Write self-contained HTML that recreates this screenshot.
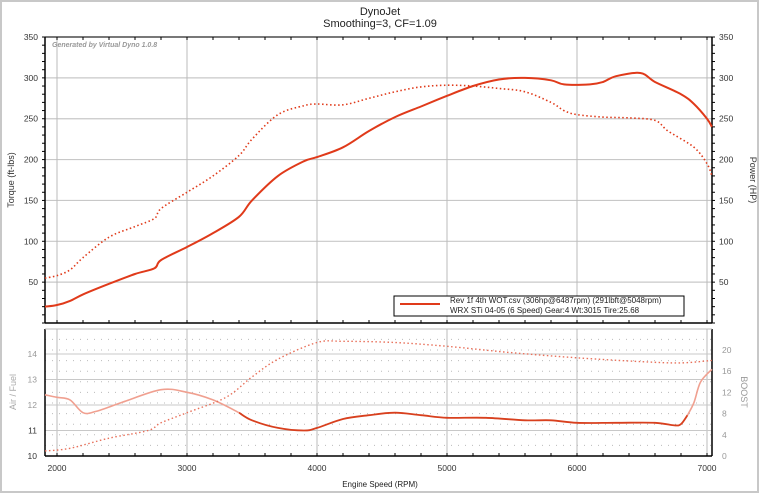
<!DOCTYPE html>
<html><head><meta charset="utf-8"><style>
body{margin:0;background:#fff;}
svg{display:block;font-family:"Liberation Sans",sans-serif;}
</style></head><body>
<svg id="s" width="759" height="493" viewBox="0 0 759 493" xmlns="http://www.w3.org/2000/svg">
<rect x="0" y="0" width="759" height="493" fill="#fff"/>
<rect x="1" y="1" width="757" height="491" fill="none" stroke="#c8c8c8" stroke-width="2"/>
<text x="380" y="15" font-size="11" text-anchor="middle" fill="#222">DynoJet</text>
<text x="380" y="27" font-size="11" text-anchor="middle" fill="#222">Smoothing=3, CF=1.09</text>
<g id="grid"></g>
<text x="52" y="47" font-size="7" font-style="italic" font-weight="bold" fill="#999">Generated by Virtual Dyno 1.0.8</text>
<g id="curves"></g>
<rect x="394" y="296" width="290" height="20" fill="#fff" stroke="#000" stroke-width="1"/>
<line x1="400" y1="304" x2="440" y2="304" stroke="#e03a1a" stroke-width="2"/>
<text x="450" y="303" font-size="8" fill="#222">Rev 1f 4th WOT.csv (306hp@6487rpm) (291lbft@5048rpm)</text>
<text x="450" y="313" font-size="8" fill="#222">WRX STi 04-05 (6 Speed) Gear:4 Wt:3015 Tire:25.68</text>
<text transform="translate(14,180) rotate(-90)" font-size="9" text-anchor="middle" fill="#333">Torque (ft-lbs)</text>
<text transform="translate(750,180) rotate(90)" font-size="9" text-anchor="middle" fill="#333">Power (HP)</text>
<text transform="translate(16,392) rotate(-90)" font-size="9" text-anchor="middle" fill="#aaa">Air / Fuel</text>
<text transform="translate(741,392) rotate(90)" font-size="9" text-anchor="middle" fill="#999">BOOST</text>
<text x="380" y="487" font-size="8" text-anchor="middle" fill="#222">Engine Speed (RPM)</text>
</svg>
<script>
var NS="http://www.w3.org/2000/svg";
function el(p,t,a){var e=document.createElementNS(NS,t);for(var k in a)e.setAttribute(k,a[k]);p.appendChild(e);return e;}
var g=document.getElementById('grid'),c=document.getElementById('curves');
var L=45,R=712,UT=37,UB=323,LT=329,LB=456;
function X(r){return 57+(r-2000)*0.13;}
function YU(v){return 323-v*0.8171;}
function YA(a){return 456-(a-10)*25.5;}
for(var v=50;v<=350;v+=50){var y=YU(v);el(g,'line',{x1:L,y1:y,x2:R,y2:y,stroke:'#c8c8c8','stroke-width':1.2});
 el(g,'text',{x:38,y:y+3,'font-size':8.5,'text-anchor':'end',fill:'#333'}).textContent=v;
 el(g,'text',{x:719,y:y+3,'font-size':8.5,fill:'#333'}).textContent=v;}
for(var r=2000;r<=7000;r+=1000){var x=X(r);el(g,'line',{x1:x,y1:UT,x2:x,y2:UB,stroke:'#bbb','stroke-width':1});el(g,'line',{x1:x,y1:LT,x2:x,y2:LB,stroke:'#bbb','stroke-width':1});
 el(g,'text',{x:x,y:471,'font-size':8.5,'text-anchor':'middle',fill:'#333'}).textContent=r;}
for(var a=11;a<=14;a++){var y=YA(a);el(g,'line',{x1:L,y1:y,x2:R,y2:y,stroke:'#c8c8c8','stroke-width':1});
 el(g,'text',{x:37,y:y+3,'font-size':8.5,'text-anchor':'end',fill:a==11?'#333':'#999'}).textContent=a;}
el(g,'text',{x:37,y:459,'font-size':8.5,'text-anchor':'end',fill:'#333'}).textContent=10;
for(var b=0;b<=20;b+=4){var y=456-b*5.3;el(g,'text',{x:722,y:y+3,'font-size':8.5,fill:'#999'}).textContent=b;}
for(var b=2;b<=22;b+=2){var y=456-b*5.3;el(g,'line',{x1:L,y1:y,x2:R,y2:y,stroke:'#bbb','stroke-width':1,'stroke-dasharray':'1 6'});}
el(g,'line',{x1:L,y1:UT,x2:L,y2:UB,stroke:'#000','stroke-width':1.5});
el(g,'line',{x1:R,y1:UT,x2:R,y2:UB,stroke:'#000','stroke-width':1.5});
el(g,'line',{x1:L,y1:UT,x2:R,y2:UT,stroke:'#000','stroke-width':1});
el(g,'line',{x1:L,y1:UB,x2:R,y2:UB,stroke:'#000','stroke-width':1.5});
el(g,'line',{x1:L,y1:LT,x2:L,y2:LB,stroke:'#000','stroke-width':1.5});
el(g,'line',{x1:R,y1:LT,x2:R,y2:LB,stroke:'#000','stroke-width':1.5});
el(g,'line',{x1:L,y1:LB,x2:R,y2:LB,stroke:'#000','stroke-width':1.5});
el(g,'line',{x1:L,y1:LT,x2:R,y2:LT,stroke:'#bbb','stroke-width':1});
for(var r=2000;r<=7000;r+=200){var x=X(r);el(g,'line',{x1:x,y1:UB-3,x2:x,y2:UB,stroke:'#000'});el(g,'line',{x1:x,y1:LB-3,x2:x,y2:LB,stroke:'#000'});el(g,'line',{x1:x,y1:UT,x2:x,y2:UT+3,stroke:'#000'});}
for(var v=0;v<=350;v+=10){var y=YU(v);el(g,'line',{x1:L-3,y1:y,x2:L,y2:y,stroke:'#000'});el(g,'line',{x1:R,y1:y,x2:R+3,y2:y,stroke:'#000'});}
function path(pts,f){var P=pts.map(function(p){return [X(p[0]),f(p[1])];});var d='M'+P[0][0].toFixed(1)+','+P[0][1].toFixed(1);
 for(var i=0;i<P.length-1;i++){var p0=P[i-1]||P[i],p1=P[i],p2=P[i+1],p3=P[i+2]||p2;
  var c1x=p1[0]+(p2[0]-p0[0])/6,c1y=p1[1]+(p2[1]-p0[1])/6,c2x=p2[0]-(p3[0]-p1[0])/6,c2y=p2[1]-(p3[1]-p1[1])/6;
  d+='C'+c1x.toFixed(1)+','+c1y.toFixed(1)+' '+c2x.toFixed(1)+','+c2y.toFixed(1)+' '+p2[0].toFixed(1)+','+p2[1].toFixed(1);}
 return d;}
var hp=[[1908,20],[2000,22],[2100,27],[2200,35],[2400,48],[2600,60],[2750,67],[2800,77],[3000,93],[3200,110],[3400,130],[3500,150],[3700,180],[3900,198],[4000,203],[4200,215],[4400,235],[4600,252],[4800,265],[5000,278],[5200,290],[5400,298],[5600,300],[5800,297],[5900,292],[6100,292],[6200,295],[6300,302],[6487,306],[6600,295],[6800,280],[6900,268],[7000,250],[7038,240]];
var tq=[[1908,55],[2000,58],[2100,65],[2200,80],[2400,105],[2600,118],[2750,128],[2800,140],[3000,160],[3200,180],[3400,205],[3500,225],[3700,255],[3900,266],[4000,268],[4200,267],[4400,275],[4600,283],[4800,289],[5000,291],[5200,290],[5400,287],[5600,283],[5800,270],[5900,260],[6000,255],[6200,252],[6400,251],[6600,248],[6700,235],[6900,215],[7000,195],[7038,180]];
el(c,'path',{d:path(hp,YU),fill:'none',stroke:'#e03a1a','stroke-width':2});
el(c,'path',{d:path(tq,YU),fill:'none',stroke:'#e03a1a','stroke-width':1.6,'stroke-dasharray':'1.5 2.5'});
var afr1=[[1908,12.4],[2000,12.3],[2100,12.2],[2200,11.7],[2300,11.75],[2500,12.1],[2800,12.6],[3000,12.5],[3200,12.2],[3400,11.7]];
var afr2=[[3400,11.7],[3500,11.4],[3700,11.1],[3900,11.0],[4000,11.1],[4200,11.45],[4400,11.6],[4600,11.7],[4800,11.6],[5000,11.5],[5300,11.5],[5600,11.4],[5800,11.4],[6000,11.3],[6300,11.3],[6600,11.3],[6750,11.2],[6800,11.25],[6850,11.6]];
var afr3=[[6850,11.6],[6900,12.1],[6950,12.9],[7038,13.4]];
el(c,'path',{d:path(afr1,YA),fill:'none',stroke:'#f0a090','stroke-width':1.6});
el(c,'path',{d:path(afr2,YA),fill:'none',stroke:'#d8401e','stroke-width':1.8});
el(c,'path',{d:path(afr3,YA),fill:'none',stroke:'#f0a090','stroke-width':1.6});
var bst=[[1908,10.2],[2100,10.3],[2400,10.7],[2700,11.0],[2800,11.3],[3000,11.7],[3300,12.3],[3500,13.1],[3700,13.8],[4000,14.45],[4200,14.5],[4600,14.45],[5000,14.3],[5500,14.05],[6000,13.85],[6500,13.7],[6800,13.65],[7038,13.75]];
el(c,'path',{d:path(bst,YA),fill:'none',stroke:'#e8705a','stroke-width':1.4,'stroke-dasharray':'1.5 2.5'});
</script>
</body></html>
